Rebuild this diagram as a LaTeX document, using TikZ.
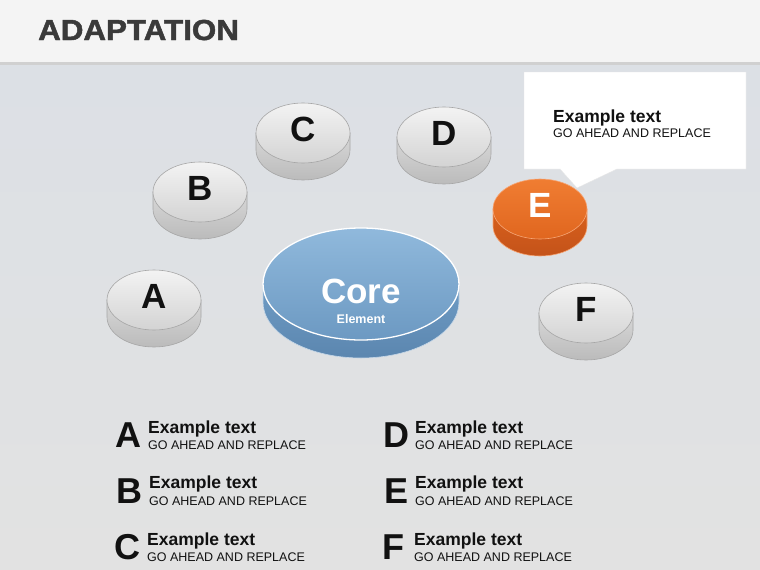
\documentclass[tikz,border=0pt]{standalone}
\usepackage{fontspec}
\setmainfont{Liberation Sans}
\newfontfamily\heavyfont[FakeBold=1.6]{Liberation Sans Bold}
\usetikzlibrary{shapes.geometric}
\definecolor{hdr}{HTML}{F4F4F4}
\definecolor{hdrline}{HTML}{D0D0D0}
\definecolor{bgtop}{HTML}{DCE0E5}
\definecolor{bgmid}{HTML}{E8EAED}
\definecolor{bgbot}{HTML}{E2E2E2}
\definecolor{titlecol}{HTML}{3A3A3A}
\definecolor{disktop}{HTML}{F3F3F3}
\definecolor{diskbot}{HTML}{D3D3D3}
\definecolor{sidetop}{HTML}{D8D8D8}
\definecolor{sidebot}{HTML}{BBBBBB}
\definecolor{diskedge}{HTML}{A6A6A6}
\definecolor{orgtop}{HTML}{F07D32}
\definecolor{orgbot}{HTML}{E0661F}
\definecolor{orgside}{HTML}{D8601C}
\definecolor{orgsideb}{HTML}{C4531A}
\definecolor{orgedge}{HTML}{F6A676}
\definecolor{coretop}{HTML}{90B9DC}
\definecolor{corebot}{HTML}{6C99C2}
\definecolor{coreside}{HTML}{6F9CC5}
\definecolor{coresideb}{HTML}{5B86AF}
\definecolor{txt}{HTML}{111111}
\newcommand\diskside[5]{%
  \shade[top color=#3,bottom color=#4,draw=#5,line width=0.6pt]
    (#1-47,#2) -- (#1-47,#2+17) arc[start angle=180,end angle=0,x radius=47,y radius=30] -- (#1+47,#2) -- cycle;}
\begin{document}
\begin{tikzpicture}[x=1pt,y=-1pt,
  disk/.style={ellipse,minimum width=94pt,minimum height=60pt,inner sep=0pt,
    draw=diskedge,line width=0.6pt,top color=disktop,bottom color=diskbot,
    font=\fontsize{35}{35}\selectfont\bfseries,text=txt,text height=25pt,text depth=8pt},
  odisk/.style={disk,draw=orgedge,top color=orgtop,bottom color=orgbot,text=white},
  bigletter/.style={anchor=base west,inner sep=0pt,font=\fontsize{36}{36}\selectfont\bfseries,text=txt,text height=26pt,text depth=0pt},
  extitle/.style={anchor=base west,inner sep=0pt,font=\fontsize{17.5}{17.5}\selectfont\bfseries,text=txt,text height=12.5pt,text depth=0pt},
  exsub/.style={anchor=base west,inner sep=0pt,font=\fontsize{12.5}{12.5}\selectfont,text=txt,text height=9pt,text depth=0pt},
  ]
\useasboundingbox (0,0) rectangle (760,570);
% background
\fill[hdr] (0,0) rectangle (760,62);
\shade[top color=bgtop,middle color=bgmid,bottom color=bgbot] (0,65) rectangle (760,570);
\fill[hdrline] (0,62) rectangle (760,65);
\node[anchor=base west,inner sep=0pt,text=titlecol,font=\fontsize{29}{29}\selectfont\heavyfont] (title) at (38,40) {\scalebox{1.08}[1]{ADAPTATION}};

% callout
\fill[white,draw=white!90!black,line width=0.4pt] (524,72) -- (746,72) -- (746,169) -- (617,169) -- (577,188) -- (560,169) -- (524,169) -- cycle;
\node[extitle] (ct) at (553,122) {Example text};
\node[exsub] (cs) at (553,137) {GO AHEAD AND REPLACE};

% core
\shade[top color=coreside,bottom color=coresideb,draw=white!60!coreside,line width=0.6pt]
  (263,284) -- (263,302) arc[start angle=180,end angle=0,x radius=98,y radius=56] -- (459,284) -- cycle;
\node[ellipse,minimum width=196pt,minimum height=112pt,inner sep=0pt,draw=white,line width=1.3pt,
  top color=coretop,bottom color=corebot] (core) at (361,284) {};
\node[text=white,font=\fontsize{35}{35}\selectfont\bfseries,inner sep=0pt] (coretxt) at (361,291.5) {Core};
\node[text=white,font=\fontsize{12.5}{12.5}\selectfont\bfseries,inner sep=0pt] (coresub) at (361,319) {Element};

% disks
\diskside{154}{300}{sidetop}{sidebot}{diskedge}
\node[disk] (A) at (154,300) {A};
\diskside{200}{192}{sidetop}{sidebot}{diskedge}
\node[disk] (B) at (200,192) {B};
\diskside{303}{133}{sidetop}{sidebot}{diskedge}
\node[disk] (C) at (303,133) {C};
\diskside{444}{137}{sidetop}{sidebot}{diskedge}
\node[disk] (D) at (444,137) {D};
\diskside{540}{209}{orgside}{orgsideb}{orgedge}
\node[odisk] (E) at (540,209) {E};
\diskside{586}{313}{sidetop}{sidebot}{diskedge}
\node[disk] (F) at (586,313) {F};

% list
\node[bigletter] (LA) at (115,447.5) {A};
\node[extitle] (TA) at (148,433) {Example text};
\node[exsub] (SA) at (148,449.5) {GO AHEAD AND REPLACE};
\node[bigletter] (LB) at (116,503.5) {B};
\node[extitle] (TB) at (149,488.5) {Example text};
\node[exsub] (SB) at (149,505.5) {GO AHEAD AND REPLACE};
\node[bigletter] (LC) at (114,559.5) {C};
\node[extitle] (TC) at (147,545) {Example text};
\node[exsub] (SC) at (147,561.5) {GO AHEAD AND REPLACE};
\node[bigletter] (LD) at (383,447.5) {D};
\node[extitle] (TD) at (415,433) {Example text};
\node[exsub] (SD) at (415,449.5) {GO AHEAD AND REPLACE};
\node[bigletter] (LE) at (384,503.5) {E};
\node[extitle] (TE) at (415,488.5) {Example text};
\node[exsub] (SE) at (415,505.5) {GO AHEAD AND REPLACE};
\node[bigletter] (LF) at (382,559.5) {F};
\node[extitle] (TF) at (414,545) {Example text};
\node[exsub] (SF) at (414,561.5) {GO AHEAD AND REPLACE};
\end{tikzpicture}
\end{document}
